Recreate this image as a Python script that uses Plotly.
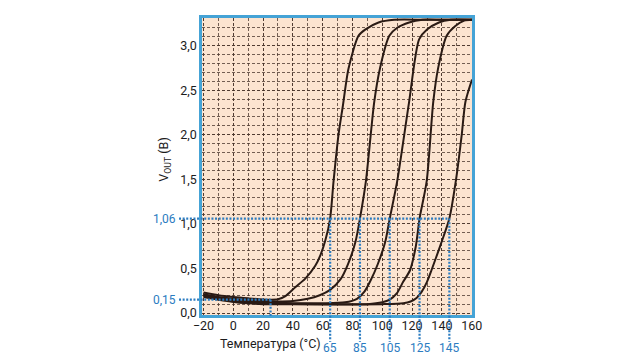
import plotly.graph_objects as go

# ---- data ----
T1 = [-20, -10, 0, 10, 20, 25, 30, 35, 41.6, 48, 55, 58.5, 61.7, 65, 67.3, 70.6, 73.5, 77.3, 84, 88.5, 97.5, 108, 130, 160.2]
V1 = [0.23, 0.2, 0.18, 0.165, 0.152, 0.15, 0.155, 0.19, 0.29, 0.38, 0.53, 0.65, 0.81, 1.06, 1.48, 2.0, 2.32, 2.74, 3.11, 3.18, 3.26, 3.29, 3.29, 3.29]

T2 = [-20, -10, 0, 10, 20, 30, 40, 50, 58, 65, 72, 77, 82, 85, 89, 94.6, 98.5, 104.7, 110, 118, 127, 140, 160.2]
V2 = [0.21, 0.18, 0.16, 0.145, 0.135, 0.13, 0.135, 0.16, 0.2, 0.26, 0.38, 0.55, 0.8, 1.06, 1.48, 2.37, 2.75, 3.11, 3.2, 3.26, 3.29, 3.29, 3.29]

T3 = [-20, -10, 0, 10, 20, 40, 60, 75, 83, 88, 92.3, 97, 102, 105, 110, 118, 124.7, 130, 138, 146, 160.2]
V3 = [0.2, 0.17, 0.145, 0.13, 0.12, 0.11, 0.11, 0.12, 0.16, 0.24, 0.37, 0.55, 0.8, 1.06, 1.48, 2.37, 3.07, 3.18, 3.26, 3.29, 3.29]

T4 = [-20, -10, 0, 10, 20, 40, 70, 90, 100, 105, 109.7, 114, 118.6, 122.5, 125, 129.8, 134.2, 137.5, 143.2, 149, 155, 160.2]
V4 = [0.19, 0.16, 0.135, 0.12, 0.11, 0.105, 0.1, 0.1, 0.12, 0.15, 0.22, 0.35, 0.48, 0.75, 1.06, 1.48, 2.37, 2.75, 3.11, 3.22, 3.28, 3.29]

T5 = [-20, -10, 0, 10, 20, 40, 70, 100, 114, 119, 123, 126.5, 130, 133, 139, 145, 149.5, 153.3, 155.8, 160.2]
V5 = [0.18, 0.15, 0.125, 0.11, 0.1, 0.1, 0.095, 0.1, 0.11, 0.13, 0.17, 0.24, 0.35, 0.48, 0.76, 1.06, 1.5, 2.0, 2.37, 2.62]

CURVES = [(T1, V1), (T2, V2), (T3, V3), (T4, V4), (T5, V5)]

X_TICKS = [-20, 0, 20, 40, 60, 80, 100, 120, 140, 160]
X_TICKTEXT = ["\u221220", "0", "20", "40", "60", "80", "100", "120", "140", "160"]
Y_TICKS = [0.0, 0.5, 1.0, 1.5, 2.0, 2.5, 3.0]
Y_TICKTEXT = ["0,0", "0,5", "1,0", "1,5", "2,0", "2,5", "3,0"]

MARK_TEMPS = [65, 85, 105, 125, 145]
MARK_V = 1.06
LOW_T = 25
LOW_V = 0.15

XR = [-21, 160.2]
YR = [-0.022, 3.31]

# ---- styling ----
CURVE_COLOR = "#2a1a14"
BLUE_FRAME = "#45a3d6"
BLUE_MARK = "#2b7cc1"
GRID = "rgba(70,50,40,0.75)"
BG = "#fce4d0"
FONT = "Roboto"
TEXT = "#1c1c1c"


def xdom(v):
    return (v - XR[0]) / (XR[1] - XR[0])


def ydom(v):
    return (v - YR[0]) / (YR[1] - YR[0])


fig = go.Figure()
for T, V in CURVES:
    fig.add_trace(go.Scatter(
        x=T, y=V, mode="lines",
        line=dict(color=CURVE_COLOR, width=2, shape="spline", smoothing=0.7),
        hoverinfo="skip", showlegend=False))

dot = dict(color=BLUE_MARK, width=2.2, dash="2px,1.6px")
shapes = [
    dict(type="line", xref="x domain", yref="y", x0=-0.085, x1=xdom(MARK_TEMPS[-1]),
         y0=MARK_V, y1=MARK_V, line=dot, layer="above"),
    dict(type="line", xref="x domain", yref="y", x0=-0.085, x1=xdom(LOW_T),
         y0=LOW_V, y1=LOW_V, line=dot, layer="above"),
    dict(type="line", xref="x", yref="y domain", x0=LOW_T, x1=LOW_T,
         y0=ydom(LOW_V), y1=-0.008, line=dot, layer="above"),
]
for t in MARK_TEMPS:
    shapes.append(dict(type="line", xref="x", yref="y domain", x0=t, x1=t,
                       y0=ydom(MARK_V), y1=-0.09, line=dot, layer="above"))

annotations = [
    dict(text="1,06", xref="paper", yref="y", x=-0.09, y=MARK_V, xanchor="right",
         yanchor="middle", showarrow=False, font=dict(family=FONT, size=12, color=BLUE_MARK)),
    dict(text="0,15", xref="paper", yref="y", x=-0.09, y=LOW_V, xanchor="right",
         yanchor="middle", showarrow=False, font=dict(family=FONT, size=12, color=BLUE_MARK)),
    dict(text="V<sub>OUT</sub> (В)", xref="paper", yref="paper", x=-0.137, y=0.523,
         textangle=-90, showarrow=False, xanchor="center", yanchor="middle",
         font=dict(family=FONT, size=12.5, color=TEXT)),
    dict(text="Температура (°C)", xref="paper", yref="paper", x=0.252, y=-0.095,
         showarrow=False, xanchor="center", yanchor="middle",
         font=dict(family=FONT, size=12.5, color=TEXT)),
]
for t in MARK_TEMPS:
    annotations.append(dict(text=str(t), xref="x", yref="paper", x=t, y=-0.11,
                            showarrow=False, xanchor="center", yanchor="middle",
                            font=dict(family=FONT, size=12, color=BLUE_MARK)))

# the page body adds an 8px offset at the top-left, so the figure is 8px smaller each way
fig.update_layout(
    width=632, height=352,
    margin=dict(l=194, r=168, t=7, b=45),
    paper_bgcolor="white", plot_bgcolor=BG,
    shapes=shapes, annotations=annotations,
    xaxis=dict(range=XR, tickmode="array", tickvals=X_TICKS, ticktext=X_TICKTEXT,
               showgrid=True, gridcolor=GRID, gridwidth=1, griddash="3px,2px",
               minor=dict(tick0=0, dtick=10, showgrid=True, gridcolor=GRID,
                          gridwidth=1, griddash="3px,2px"),
               zeroline=False, showline=True, mirror=True, linecolor=BLUE_FRAME,
               linewidth=2.5, ticks="", ticklabelstandoff=-3,
               tickfont=dict(family=FONT, size=12.5, color=TEXT)),
    yaxis=dict(range=YR, tickmode="array", tickvals=Y_TICKS, ticktext=Y_TICKTEXT,
               showgrid=True, gridcolor=GRID, gridwidth=1, griddash="3px,2px",
               minor=dict(tick0=0, dtick=0.1, showgrid=True, gridcolor=GRID,
                          gridwidth=1, griddash="3px,2px"),
               zeroline=False, showline=True, mirror=True, linecolor=BLUE_FRAME,
               linewidth=2.5, ticks="", tickfont=dict(family=FONT, size=12.5, color=TEXT)),
)

fig.write_html("out.html")
